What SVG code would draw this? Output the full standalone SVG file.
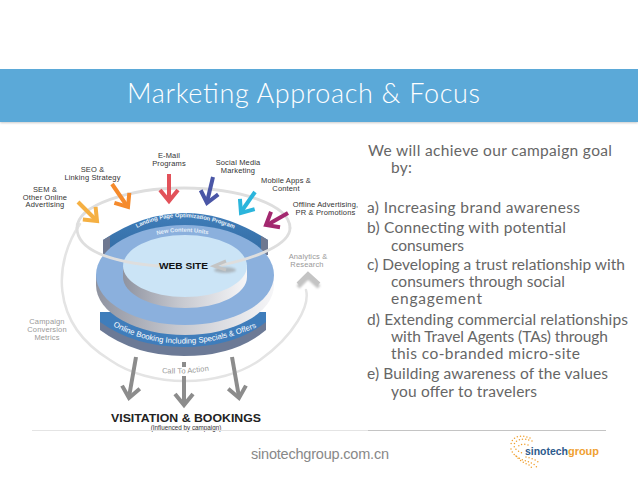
<svg xmlns="http://www.w3.org/2000/svg" width="638" height="478" viewBox="0 0 638 478">
<style>
text{font-family:"Liberation Sans",Arial,sans-serif}
.l{font-size:7.500px;letter-spacing:.15px;fill:#333;text-anchor:middle}
.g{font-size:7.500px;letter-spacing:.15px;fill:#999;text-anchor:middle}
.w{font-weight:bold;fill:#eef5fb}
.b{font-family:Lato,"Open Sans",sans-serif;font-size:15.500px;fill:#666}
.ar{fill:none;stroke-width:4;stroke-linejoin:miter}
.ring{fill:none;stroke:#dedede;stroke-width:2.800;stroke-linecap:round}
.dots{fill:none;stroke:#f0a030;stroke-width:1.500;stroke-linecap:round;stroke-dasharray:0 3.200}
</style>
<defs>
<linearGradient id="side" x1="0" x2="1" y1="0" y2="0"><stop offset="0" stop-color="#8f93a0"/><stop offset=".45" stop-color="#c5c7ce"/><stop offset="1" stop-color="#f6f6f8"/></linearGradient>
<linearGradient id="band" x1="0" x2="0" y1="0" y2="1"><stop offset="0" stop-color="#3f7db9"/><stop offset="1" stop-color="#356ea6"/></linearGradient>
<filter id="soft" x="-30%" y="-30%" width="160%" height="160%"><feGaussianBlur stdDeviation="1.200"/></filter>
<path id="hd" d="M-9 -11 L0 0 L9 -11"/>
<path id="topArc" d="M137 228 Q184 203 250 236"/>
<path id="midArc" d="M157 235 Q184 228 215 236"/>
<path id="botArc" d="M113 326 Q180 362 264 324"/>
<path id="ctaArc" d="M162 373 Q185 375 212 370"/>
</defs>
<rect width="638" height="478" fill="#fff"/>
<g id="title-bar">
<rect x="0" y="71" width="638" height="52" fill="#999" opacity=".5" filter="url(#soft)"/>
<rect x="0" y="69" width="638" height="53" fill="#5ba9d8"/>
<text x="127" y="103" textLength="353" style="font-family:Lato,'Open Sans',sans-serif;font-size:27px;font-weight:300;fill:#fff">Marketing Approach &amp; Focus</text>
</g>
<g id="connectors">
<path d="M80 224 C55 260 48 322 110 360 C150 388 220 388 260 360 C295 335 310 305 306 290" fill="none" stroke="#e4e4e4" stroke-width="2.500" stroke-linecap="round"/>
<path class="ring" d="M77 228 C77 205 130 188 184 188 C240 188 290 205 290 228"/>
</g>
<g id="disk-stack">
<path d="M103 240 Q184 186 268 240 L268 252 L103 252Z" fill="url(#band)"/>
<path d="M103 240 L110 236 L110 255 L103 255Z M268 240 L261 236 L261 255 L268 255Z" fill="#6f7890"/>
<path d="M100 312 L100 330 Q135 356 184 356 Q235 356 266 330 L266 312Z" fill="#6c7a96"/>
<path d="M100 312 L100 322 Q135 347 184 347 Q235 347 266 322 L266 312Z" fill="#3f7dbb"/>
<path d="M96 275 L96 285 A89 50 0 0 0 274 285 L274 275Z" fill="url(#side)"/>
<ellipse cx="185" cy="275" rx="89" ry="50" fill="#8bb0dd"/>
<path d="M123 265 L123 277 A62 31 0 0 0 247 277 L247 265Z" fill="url(#side)"/>
<ellipse cx="185" cy="266" rx="62" ry="31" fill="#cbe4f6"/>
</g>
<g id="ring-front">
<path class="ring" d="M158 266 C110 262 77 250 77 228"/>
<path class="ring" d="M290 228 C290 245 255 258 222 265"/>
<ellipse cx="225" cy="270" rx="11" ry="3" fill="#999" opacity=".6" filter="url(#soft)"/>
<path d="M226 261 L214 266 L226 270" fill="none" stroke="#c4c4c4" stroke-width="3"/>
</g>
<g id="node-website"><text x="159" y="269" textLength="49" lengthAdjust="spacingAndGlyphs" style="font-size:8.500px;font-weight:bold;fill:#111">WEB SITE</text></g>
<g id="node-landing"><text class="w" style="font-size:5.800px"><textPath href="#topArc">Landing Page Optimization Program</textPath></text></g>
<g id="node-content"><text class="w" style="font-size:5.800px;fill:#e4eef8"><textPath href="#midArc">New Content Units</textPath></text></g>
<g id="node-booking"><text class="w" style="font-size:7.800px;font-weight:normal;fill:#fff"><textPath href="#botArc">Online Booking Including Specials &amp; Offers</textPath></text></g>
<g id="arrows">
<g class="ar" stroke="#f5b043"><path d="M78 202 L96 220"/><use href="#hd" transform="translate(97 221) rotate(-45)"/></g>
<g class="ar" stroke="#f58a2c"><path d="M112 184 L127 206"/><use href="#hd" transform="translate(128 207) rotate(-34)"/></g>
<g class="ar" stroke="#e2525a"><path d="M169 174 L169 200"/><use href="#hd" transform="translate(169 201)"/></g>
<g class="ar" stroke="#4a56a6"><path d="M213 177 L207 202"/><use href="#hd" transform="translate(207 203) rotate(13)"/></g>
<g class="ar" stroke="#2bb5dc"><path d="M255 192 L241 212"/><use href="#hd" transform="translate(241 213) rotate(35)"/></g>
<g class="ar" stroke="#a3286f"><path d="M288 213 L267 225"/><use href="#hd" transform="translate(266 225) rotate(60)"/></g>
<g class="ar" stroke="#8c8c8c"><path d="M136 357 L129 397"/><use href="#hd" transform="translate(129 398) rotate(10)"/></g>
<g class="ar" stroke="#8c8c8c"><path d="M184 362 L184 367 M184 376 L184 404"/><use href="#hd" transform="translate(184 405)"/></g>
<g class="ar" stroke="#8c8c8c"><path d="M232 357 L239 397"/><use href="#hd" transform="translate(239 398) rotate(-10)"/></g>
<path d="M298 287 L308 277 L319 287" fill="none" stroke="#999" stroke-width="4" opacity=".6" filter="url(#soft)"/>
<path id="analytics-arrow" d="M298 284 L308 274 L319 284" fill="none" stroke="#c4c4c4" stroke-width="4"/>
</g>
<g id="node-sem"><text class="l" x="45" y="192">SEM &amp;</text><text class="l" x="45" y="199.500">Other Online</text><text class="l" x="45" y="207">Advertising</text></g>
<g id="node-seo"><text class="l" x="92.500" y="172">SEO &amp;</text><text class="l" x="92.500" y="179.500">Linking Strategy</text></g>
<g id="node-email"><text class="l" x="169" y="158">E-Mail</text><text class="l" x="169" y="166">Programs</text></g>
<g id="node-social"><text class="l" x="238" y="165">Social Media</text><text class="l" x="238" y="172.500">Marketing</text></g>
<g id="node-mobile"><text class="l" x="286" y="183">Mobile Apps &amp;</text><text class="l" x="286" y="190.500">Content</text></g>
<g id="node-offline"><text class="l" x="325.500" y="207">Offline Advertising,</text><text class="l" x="325.500" y="214.500">PR &amp; Promotions</text></g>
<g id="node-analytics"><text class="g" x="308" y="259">Analytics &amp;</text><text class="g" x="307" y="267">Research</text></g>
<g id="node-metrics"><text class="g" x="47" y="324">Campaign</text><text class="g" x="47" y="332">Conversion</text><text class="g" x="47" y="339.500">Metrics</text></g>
<g id="node-cta"><text class="g" style="text-anchor:start"><textPath href="#ctaArc">Call To Action</textPath></text></g>
<g id="node-visitation"><text x="111" y="422" textLength="150" lengthAdjust="spacingAndGlyphs" style="font-size:10px;font-weight:bold;fill:#222">VISITATION &amp; BOOKINGS</text><text x="186" y="429.500" text-anchor="middle" style="font-size:6.300px;fill:#333">(Influenced by campaign)</text></g>
<g id="body-text">
<text class="b" x="368" y="156" textLength="244">We will achieve our campaign goal</text>
<text class="b" x="391" y="173" textLength="21">by:</text>
<text class="b" x="367" y="213" textLength="213">a) Increasing brand awareness</text>
<text class="b" x="367" y="233" textLength="199">b) Connecting with potential</text>
<text class="b" x="391" y="251" textLength="73">consumers</text>
<text class="b" x="367" y="270" textLength="258">c) Developing a trust relationship with</text>
<text class="b" x="391" y="287" textLength="174">consumers through social</text>
<text class="b" x="391" y="304" textLength="91">engagement</text>
<text class="b" x="367" y="325" textLength="261">d) Extending commercial relationships</text>
<text class="b" x="391" y="342" textLength="217">with Travel Agents (TAs) through</text>
<text class="b" x="391" y="359" textLength="189">this co-branded micro-site</text>
<text class="b" x="367" y="379" textLength="241">e) Building awareness of the values</text>
<text class="b" x="391" y="397" textLength="146">you offer to travelers</text>
</g>
<g id="footer">
<path d="M32 430.500 H368" stroke="#e4e4e4" fill="none"/>
<path d="M368 430.500 H606" stroke="#c4c4c4" fill="none"/>
<text x="251" y="459" textLength="138" style="font-size:14.500px;fill:#888">sinotechgroup.com.cn</text>
</g>
<g id="logo">
<path class="dots" d="M530 438 C518 433 511 439 511 445"/>
<path class="dots" d="M532 441 C522 437 515 440 514 445 C514 450 520 452 524 454"/>
<path class="dots" d="M528 445 C522 443 518 445 518 448"/>
<path class="dots" d="M511 449 C513 456 520 459 526 461 C532 463 536 465 537 468"/>
<path class="dots" d="M516 456 C519 460 524 463 529 465 C531 466 532 468 532 470"/>
<path class="dots" d="M526 457 C531 458 537 460 540 464"/>
<text x="525" y="455" textLength="43" lengthAdjust="spacingAndGlyphs" style="font-size:10.500px;font-weight:bold;fill:#2d5a8c">sinotech</text>
<text x="568" y="455" textLength="31" lengthAdjust="spacingAndGlyphs" style="font-size:10.500px;font-weight:bold;fill:#f0a030">group</text>
</g>
</svg>
